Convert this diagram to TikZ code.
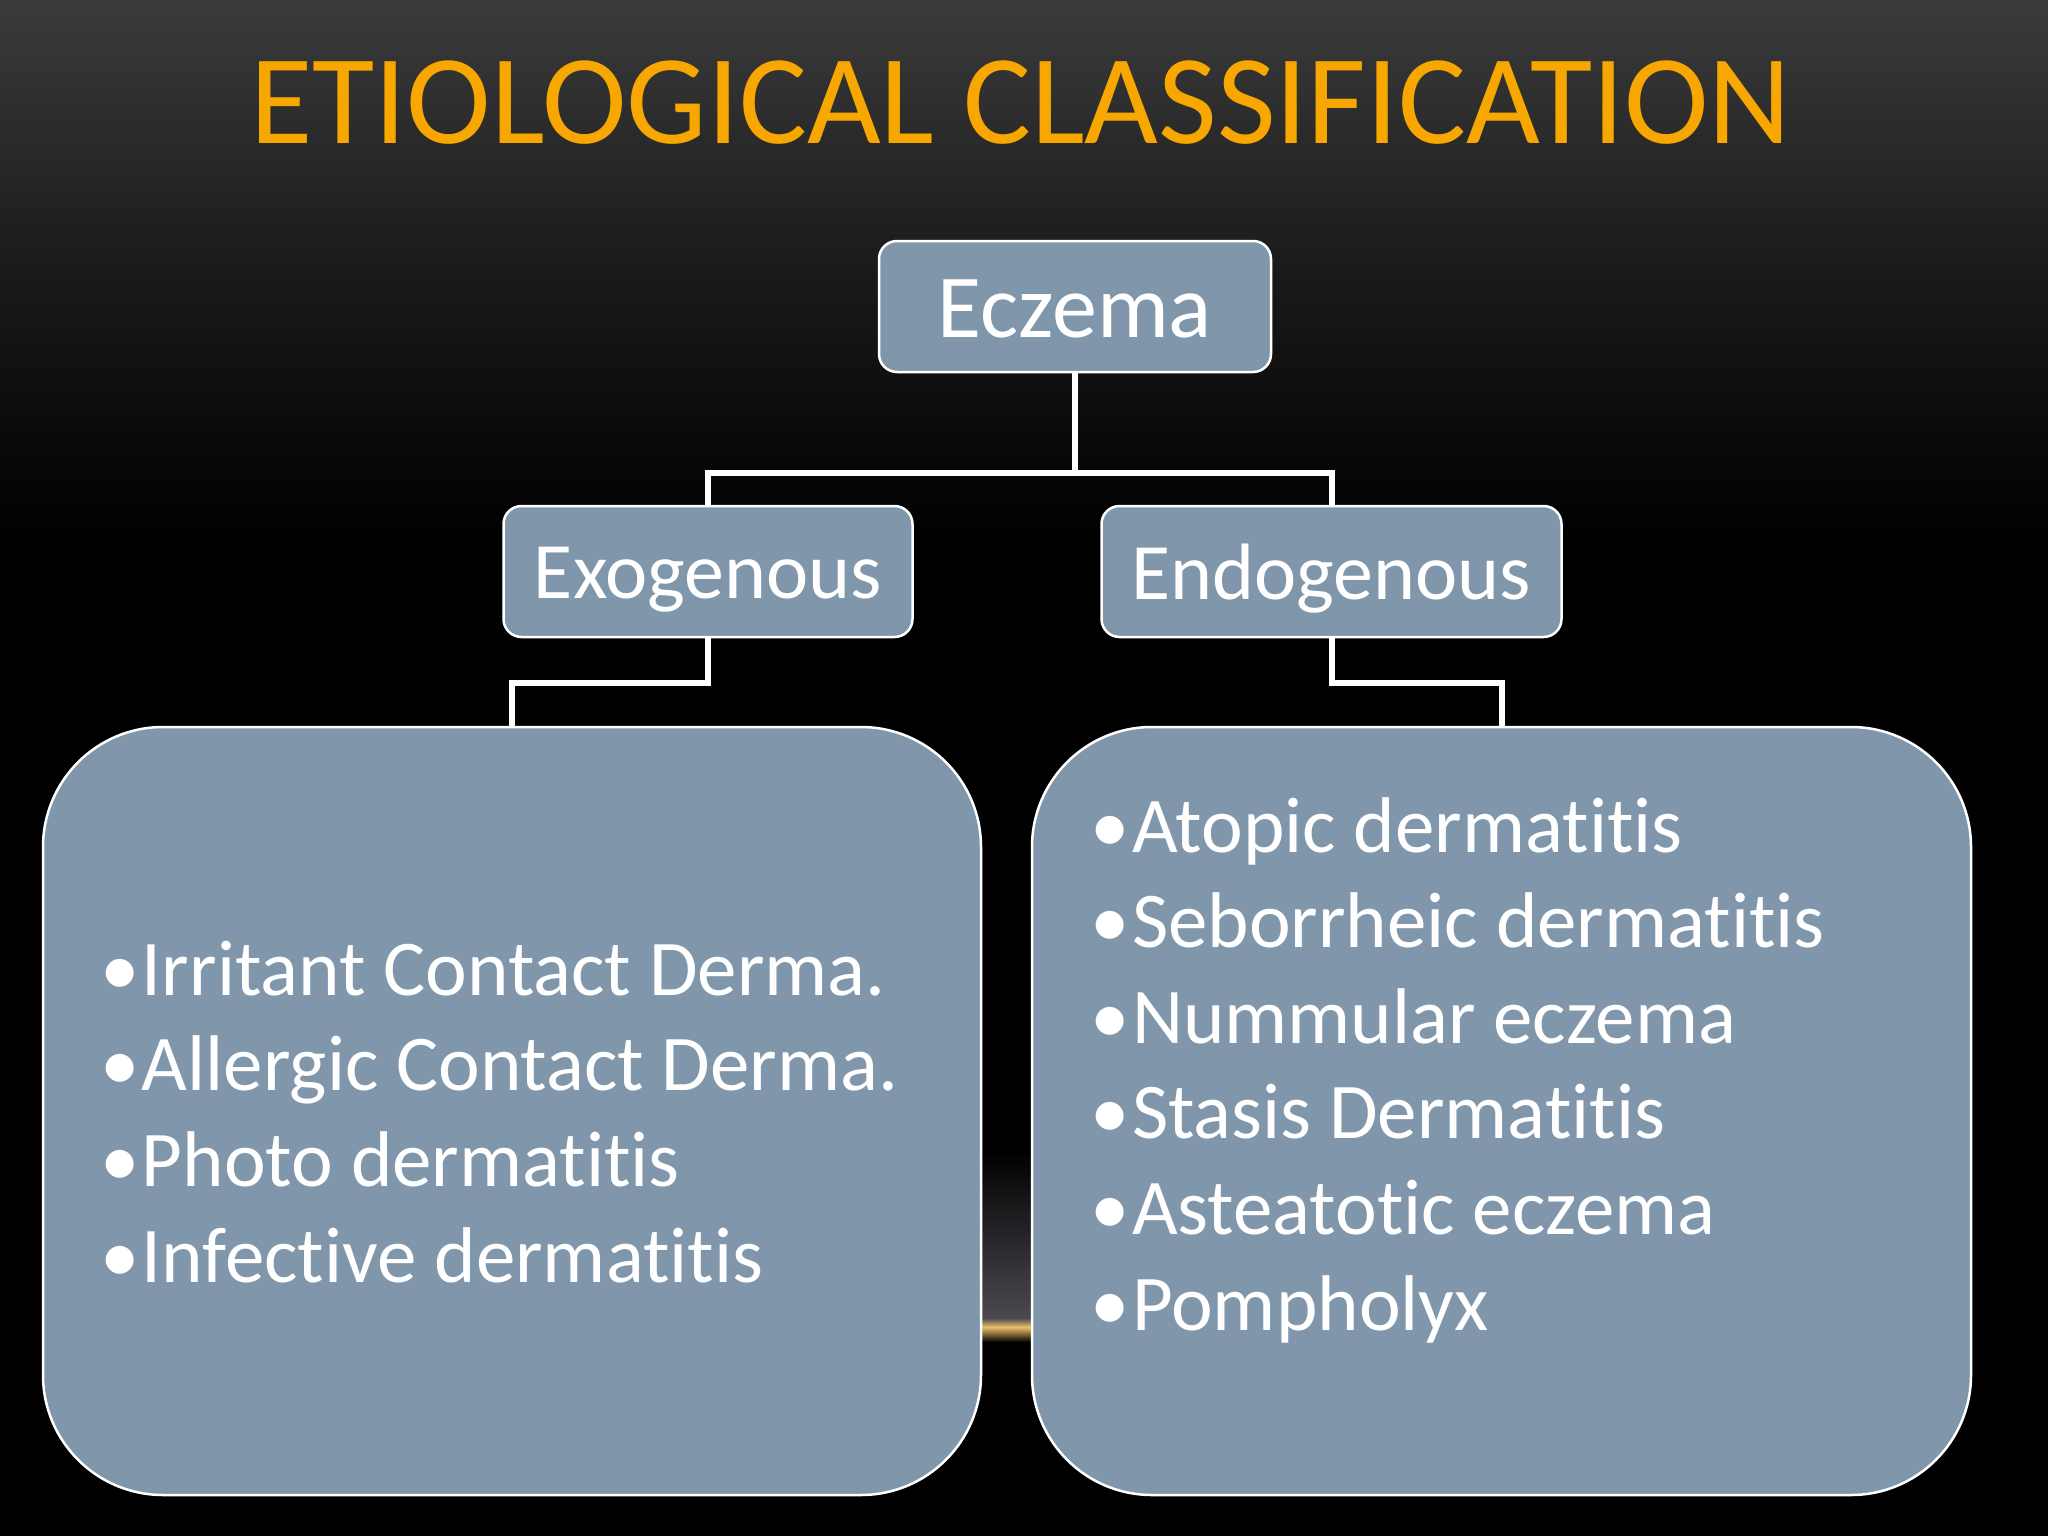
\documentclass[tikz,border=0pt]{standalone}
\usepackage{fontspec}
\setmainfont{Carlito}[Ligatures={NoCommon}]
\usetikzlibrary{calc}
\definecolor{boxfill}{RGB}{127,150,171}
\definecolor{titleorange}{RGB}{247,167,0}
\definecolor{glowgray}{RGB}{76,72,80}
\definecolor{glowgold}{RGB}{236,190,105}
\newcommand{\bul}{•\kern2.5pt}
\begin{document}
\begin{tikzpicture}[x=1pt,y=-1pt,
  smallbox/.style={draw=white,line width=2.5pt,fill=boxfill,rounded corners=18pt,inner sep=0pt,text=white},
  bigbox/.style={draw=white,line width=2.5pt,fill=boxfill,rounded corners=120pt,inner sep=0pt},
  conn/.style={draw=white,line width=6pt,line join=miter},
  item/.style={anchor=base west,inner sep=0pt,text=white,font=\fontsize{79}{95}\selectfont}]
% background
\useasboundingbox (0,0) rectangle (2048,1536);
\fill[black] (0,0) rectangle (2048,1536);
\shade[top color={rgb,255:red,59;green,59;blue,59},bottom color=black,middle color={rgb,255:red,26;green,26;blue,26}] (0,0) rectangle (2048,540);
% horizon glow (visible between the boxes)
\shade[top color=black,bottom color=glowgray] (940,1150) rectangle (1080,1318);
\shade[top color=glowgray,bottom color=glowgold] (940,1318) rectangle (1080,1327);
\shade[top color=glowgold,bottom color=black] (940,1327) rectangle (1080,1342);
% title
\node[anchor=base,inner sep=0pt,text=titleorange,font=\fontsize{127.5}{127.5}\selectfont] (title) at (1021,144) {ETIOLOGICAL CLASSIFICATION};
% boxes
\node[smallbox,minimum width=392pt,minimum height=131pt,text height=61pt,text depth=0pt,font=\fontsize{90}{90}\selectfont] (ecz) at (1075,306.5) {Eczema};
\node[smallbox,minimum width=409pt,minimum height=131pt,text height=53pt,text depth=0pt,font=\fontsize{80}{80}\selectfont] (exo) at (708,571.5) {Exogenous};
\node[smallbox,minimum width=460pt,minimum height=131pt,text height=55pt,text depth=0pt,font=\fontsize{80}{80}\selectfont] (endo) at (1331.5,571.5) {Endogenous};
\node[bigbox,minimum width=938pt,minimum height=768pt] (lbox) at (512,1111) {};
\node[bigbox,minimum width=939pt,minimum height=768pt] (rbox) at (1501.5,1111) {};
% connectors
\coordinate (j1) at (0,473);
\coordinate (j2) at (0,683);
\draw[conn] (ecz.south) -- (ecz.south |- j1) -| (exo.north);
\draw[conn] (ecz.south |- j1) -| (endo.north);
\draw[conn] (exo.south) -- (exo.south |- j2) -| (lbox.north);
\draw[conn] (endo.south) -- (endo.south |- j2) -| (rbox.north);
% left list
\node[item] (l1) at (100,995) {\bul Irritant Contact Derma.};
\node[item] (l2) at (100,1090.7) {\bul Allergic Contact Derma.};
\node[item] (l3) at (100,1186.3) {\bul Photo dermatitis};
\node[item] (l4) at (100,1282) {\bul Infective dermatitis};
% right list
\node[item] (r1) at (1090,852) {\bul Atopic dermatitis};
\node[item] (r2) at (1090,947.6) {\bul Seborrheic dermatitis};
\node[item] (r3) at (1090,1043.2) {\bul Nummular eczema};
\node[item] (r4) at (1090,1138.8) {\bul Stasis Dermatitis};
\node[item] (r5) at (1090,1234.4) {\bul Asteatotic eczema};
\node[item] (r6) at (1090,1330) {\bul Pompholyx};
\end{tikzpicture}
\end{document}
